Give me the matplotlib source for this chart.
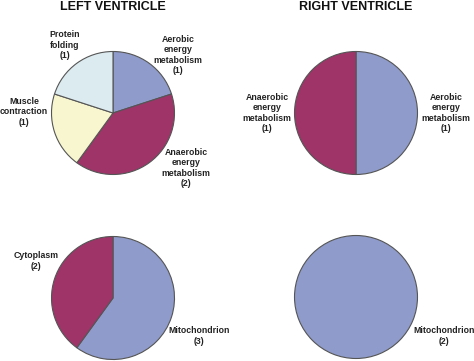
import matplotlib as mpl
from matplotlib import pyplot as plt

# data
lv_function = ["Aerobic\nenergy\nmetabolism", "Anaerobic\nenergy\nmetabolism",
               "Muscle\ncontraction", "Protein\nfolding"]
lv_function_counts = [1, 2, 1, 1]

rv_function = ["Aerobic\nenergy\nmetabolism", "Anaerobic\nenergy\nmetabolism"]
rv_function_counts = [1, 1]

lv_location = ["Mitochondrion", "Cytoplasm"]
lv_location_counts = [3, 2]

rv_location = ["Mitochondrion"]
rv_location_counts = [2]

titles = ["LEFT VENTRICLE", "RIGHT VENTRICLE"]

# colours
colors = {
    "Aerobic\nenergy\nmetabolism": "#8f9bca",
    "Anaerobic\nenergy\nmetabolism": "#9e3468",
    "Muscle\ncontraction": "#f8f6ce",
    "Protein\nfolding": "#dcebf0",
    "Mitochondrion": "#8f9bca",
    "Cytoplasm": "#9e3468",
}

W, H = 474, 361
mpl.rcParams['font.family'] = ['Liberation Sans', 'DejaVu Sans']

fig = plt.figure(figsize=(W/100, H/100), dpi=100)
ax = fig.add_axes([0, 0, 1, 1])
ax.set_xlim(0, W)
ax.set_ylim(0, H)
ax.set_aspect("equal")
ax.axis("off")

radius = 61.5

# (names, counts, centre in pixels, label positions in pixels)
pies = [
    (lv_function, lv_function_counts, (113, 113),
     [(178, 55), (186, 168), (24, 112), (65, 45)]),
    (rv_function, rv_function_counts, (356, 113),
     [(446, 113), (267, 113)]),
    (lv_location, lv_location_counts, (113, 298),
     [(199, 336), (36, 261)]),
    (rv_location, rv_location_counts, (356, 297),
     [(444, 336)]),
]

for names, counts, (cx, cy), label_pos in pies:
    ax.pie(counts, colors=[colors[n] for n in names],
           startangle=90, counterclock=False,
           center=(cx, H - cy), radius=radius,
           wedgeprops=dict(edgecolor="#555555", linewidth=0.8))
    for name, n, (lx, ly) in zip(names, counts, label_pos):
        ax.text(lx, H - ly, f"{name}\n({n})", ha="center", va="center",
                fontsize=6.3, fontweight="bold", color="#222222",
                linespacing=1.15)

ax.set_xlim(0, W)
ax.set_ylim(0, H)

for x, t in zip([113, 356], titles):
    ax.text(x, H - 7, t, ha="center", va="center",
            fontsize=9, fontweight="bold", color="#111111")

plt.savefig("out.png", dpi=100)
